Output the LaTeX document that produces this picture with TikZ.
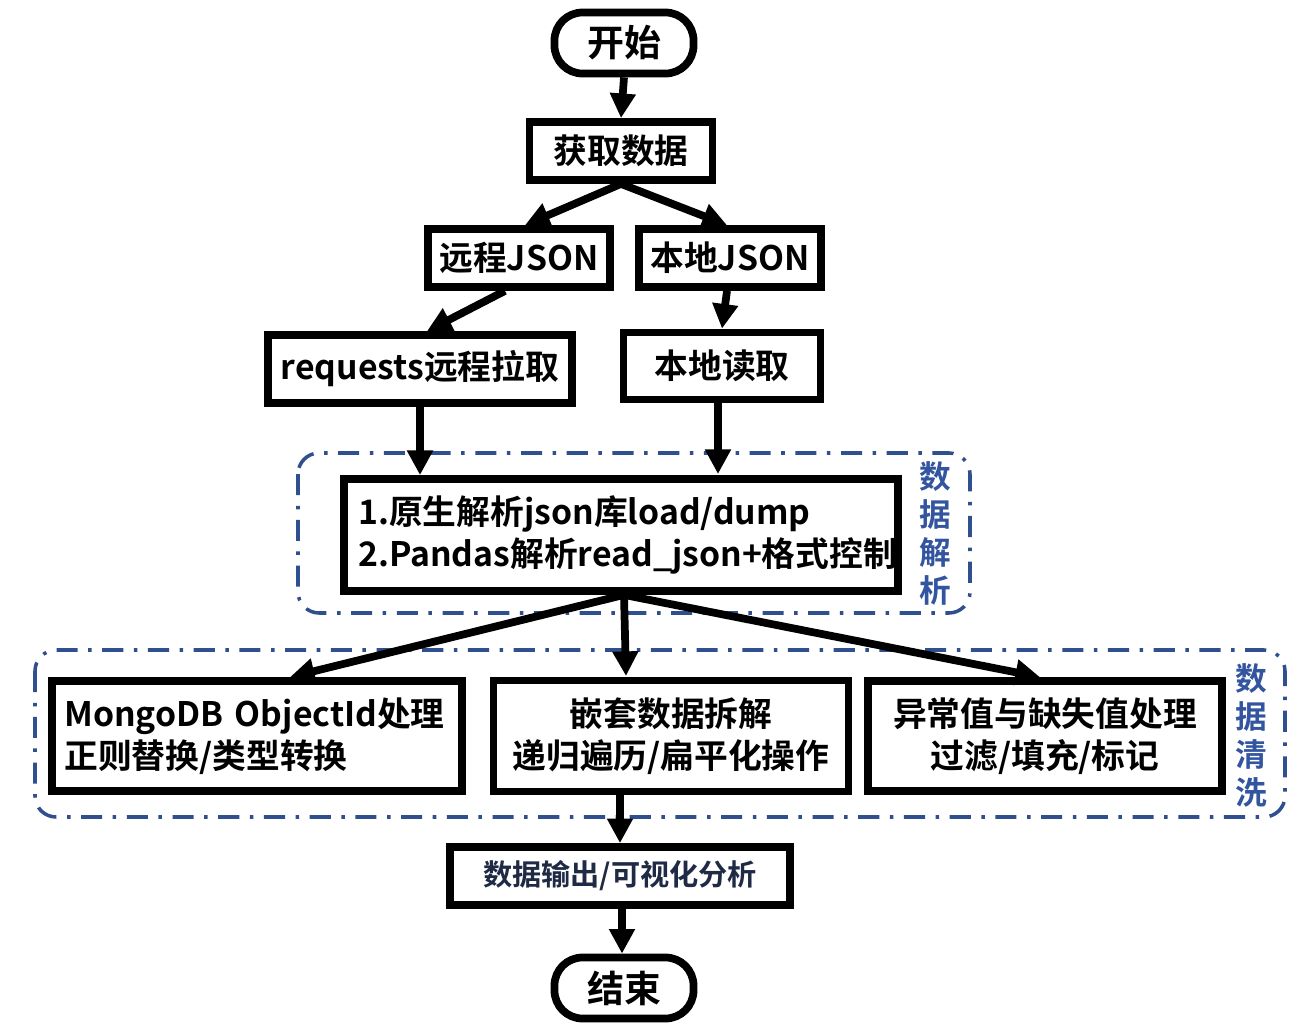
\documentclass[tikz,border=0pt]{standalone}
\usepackage{fontspec}
\setmainfont{Noto Sans CJK SC}[BoldFont={Noto Sans CJK SC Bold}]
\usetikzlibrary{arrows.meta}
\definecolor{grp}{HTML}{2F4F8F}
\definecolor{lbl}{HTML}{3355A0}
\definecolor{navy}{HTML}{1F2A44}
\begin{document}
\begin{tikzpicture}[x=0.01cm,y=-0.01cm,
 box/.style={draw,line width=2.2pt,font=\bfseries\fontsize{9.6}{12}\selectfont,inner sep=0pt,align=center},
 term/.style={draw,line width=2.2pt,rounded corners=8pt,minimum width=1.39cm,minimum height=0.61cm,font=\bfseries\fontsize{10.5}{12}\selectfont},
 arr/.style={line width=2.2pt,-{Triangle[length=7pt,width=7pt]}},
 grpbox/.style={draw=grp,line width=1pt,dash pattern=on 6pt off 3pt on 1pt off 3pt,rounded corners=6pt},
 glab/.style={text=lbl,font=\bfseries\fontsize{9}{10.8}\selectfont,align=center}]
\useasboundingbox (0,0) rectangle (1308,1033);
\draw[grpbox] (298,453) rectangle (970,613);
\draw[grpbox] (35,650) rectangle (1285,817);
\node[glab] (g1) at (935,533) {数\\据\\解\\析};
\node[glab] (g2) at (1251,735) {数\\据\\清\\洗};
\node[term] (s) at (624,43) {开始};
\node[box,minimum width=1.83cm,minimum height=0.58cm] (get) at (621,151) {获取数据};
\node[box,minimum width=1.82cm,minimum height=0.58cm] (rj) at (519,258) {远程JSON};
\node[box,minimum width=1.82cm,minimum height=0.58cm] (lj) at (730,258) {本地JSON};
\node[box,minimum width=3.04cm,minimum height=0.68cm] (req) at (420,369) {requests远程拉取};
\node[box,minimum width=1.97cm,minimum height=0.67cm] (lr) at (722,366) {本地读取};
\node[box,minimum width=5.54cm,minimum height=1.12cm,align=left,text width=5.25cm] (parse) at (621,535) {1.原生解析json库load/dump\\2.Pandas解析read\_json+格式控制};
\node[box,minimum width=4.10cm,minimum height=1.10cm,align=left,text width=3.85cm] (mg) at (257,736) {MongoDB ObjectId处理\\正则替换/类型转换};
\node[box,minimum width=3.55cm,minimum height=1.11cm] (nest) at (671,736) {嵌套数据拆解\\递归遍历/扁平化操作};
\node[box,minimum width=3.54cm,minimum height=1.10cm] (ab) at (1045,736) {异常值与缺失值处理\\过滤/填充/标记};
\node[box,minimum width=3.40cm,minimum height=0.58cm,text=navy,font=\bfseries\fontsize{8.3}{10}\selectfont] (out) at (620,876) {数据输出/可视化分析};
\node[term] (end) at (624,988) {结束};
\draw[arr] (s.south) -- (get.north);
\draw[arr] (get.south) -- (rj.north-|525,0);
\draw[arr] (get.south) -- (lj.north-|727,0);
\draw[arr] (rj.south-|505,0) -- (req.north-|427,0);
\draw[arr] (lj.south-|727,0) -- (lr.north-|722,0);
\draw[arr] (req.south) -- (parse.north-|420,0);
\draw[arr] (lr.south-|718,0) -- (718,474);
\draw[arr] (parse.south-|624,0) -- (mg.north-|290,0);
\draw[arr] (parse.south-|624,0) -- (626,676);
\draw[arr] (parse.south-|624,0) -- (ab.north-|1040,0);
\draw[arr] (nest.south-|620,0) -- (out.north-|620,0);
\draw[arr] (out.south-|622,0) -- (end.north-|622,0);
\end{tikzpicture}
\end{document}
